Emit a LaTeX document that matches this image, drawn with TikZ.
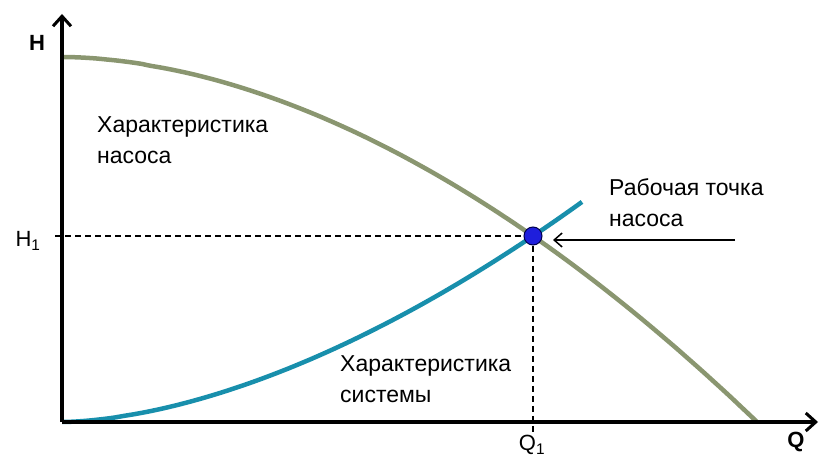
\documentclass[tikz,border=0pt]{standalone}
\usepackage{fontspec}
\setmainfont{Liberation Sans}
\usetikzlibrary{arrows.meta}
\definecolor{pumpc}{RGB}{138,150,112}
\definecolor{sysc}{RGB}{24,143,172}
\definecolor{ptc}{RGB}{30,30,220}
\begin{document}
\begin{tikzpicture}[x=1pt,y=-1pt,
 axis/.style={line width=3.5pt,-{Straight Barb[length=10pt,width=18pt,line width=3pt]}},
 lbl/.style={font=\fontsize{23}{31}\selectfont,align=left,anchor=north west,inner sep=0pt},
 dashline/.style={line width=1.3pt,dash pattern=on 6pt off 4pt}]
\useasboundingbox (0,0) rectangle (831,470);
\coordinate (O) at (62,422);
\coordinate (ytop) at (62,14);
\coordinate (xend) at (818,422);
\coordinate (P) at (533,236);
\coordinate (h1) at (55,236);
\coordinate (q1) at (533,432);
\coordinate (arrs) at (735,240);
\draw[dashline] (h1) -- (P);
\draw[dashline] (P) -- (q1);
\draw[pumpc,line width=4.5pt] plot[domain=0:695,samples=80,smooth] ({62+\x},{422-365*(1-(\x/695)^1.83)});
\draw[sysc,line width=4.5pt] plot[domain=0:520,samples=60,smooth] ({62+\x},{422-186*(\x/471)^1.7});
\draw[axis] (O) -- (ytop);
\draw[axis] (O) -- (xend);
\node[circle,fill=ptc,draw=black!70!blue,line width=1pt,minimum size=18pt,inner sep=0pt] (pt) at (P) {};
\draw[line width=1.5pt,-{Straight Barb[length=8pt,width=14pt,line width=1.5pt]}] (arrs) -- (553,240);
\node[font=\fontsize{22}{26}\selectfont\bfseries] (H) at (37,43) {H};
\node[font=\fontsize{22}{26}\selectfont\bfseries] (Q) at (796,442) {Q};
\node[font=\fontsize{22}{26}\selectfont] (H1l) at (28,241) {H\textsubscript{1}};
\node[font=\fontsize{22}{26}\selectfont] (Q1l) at (532,445) {Q\textsubscript{1}};
\node[lbl] (t1) at (97,116) {Характеристика\\насоса};
\node[lbl] (t2) at (609,178) {Рабочая точка\\насоса};
\node[lbl] (t3) at (340,355) {Характеристика\\системы};
\end{tikzpicture}
\end{document}
